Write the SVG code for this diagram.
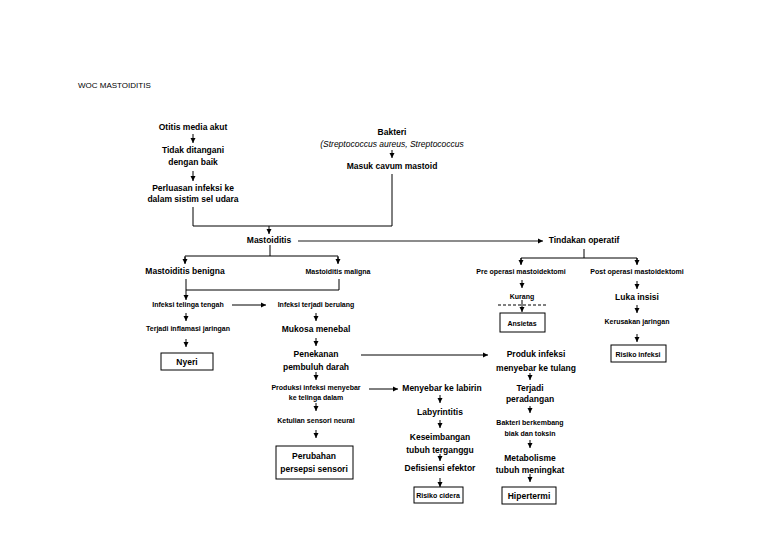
<svg xmlns="http://www.w3.org/2000/svg" width="768" height="543" viewBox="0 0 768 543">
<defs><marker id="a" markerWidth="6" markerHeight="6" refX="5" refY="3" orient="auto" markerUnits="userSpaceOnUse"><path d="M0,0.5 L5,3 L0,5.5z" fill="#000"/></marker></defs>
<style>
text{font-family:"Liberation Sans",Arial,sans-serif;font-size:8.5px;font-weight:bold;text-anchor:middle;fill:#000}
.s{font-size:7px}
line,path.c{stroke:#000;stroke-width:1;fill:none}
.ar{marker-end:url(#a)}
rect{fill:#fff;stroke:#000;stroke-width:1}
</style>
<rect x="0" y="0" width="768" height="543" style="stroke:none"/>
<text x="78" y="88" style="text-anchor:start;font-weight:normal;font-size:8px">WOC MASTOIDITIS</text>
<g id="connectors">
<line class="ar" x1="193" y1="134" x2="193" y2="143"/>
<line class="ar" x1="193" y1="171" x2="193" y2="181"/>
<line class="ar" x1="392" y1="150" x2="392" y2="158"/>
<path class="c" d="M193,207 V226 H392 V174"/>
<line class="ar" x1="269" y1="226" x2="269" y2="234"/>
<line class="ar" x1="298" y1="241" x2="543" y2="241" style="stroke:#666;stroke-width:1.5"/>
<path class="c" d="M270,245 V256"/>
<path class="c" d="M185,263 V256 H338 V263"/>
<line class="ar" x1="185" y1="257" x2="185" y2="264"/>
<line class="ar" x1="338" y1="257" x2="338" y2="264"/>
<path class="c" d="M186,279 V290 H339 V279"/>
<line class="ar" x1="186" y1="290" x2="186" y2="300"/>
<line class="ar" x1="232" y1="305" x2="266" y2="305"/>
<line class="ar" x1="186" y1="313" x2="186" y2="321"/>
<line class="ar" x1="186" y1="339" x2="186" y2="347"/>
<line class="ar" x1="316" y1="313" x2="316" y2="321"/>
<line class="ar" x1="316" y1="338" x2="316" y2="346"/>
<line class="ar" x1="361" y1="355" x2="488" y2="355"/>
<line class="ar" x1="316" y1="372" x2="316" y2="380"/>
<line class="ar" x1="369" y1="389" x2="398" y2="389"/>
<line class="ar" x1="316" y1="403" x2="316" y2="411"/>
<line class="ar" x1="316" y1="430" x2="316" y2="438"/>
<line class="ar" x1="440" y1="395" x2="440" y2="403"/>
<line class="ar" x1="440" y1="420" x2="440" y2="428"/>
<line class="ar" x1="440" y1="454" x2="440" y2="461"/>
<line class="ar" x1="440" y1="478" x2="440" y2="487"/>
<line class="ar" x1="530" y1="373" x2="530" y2="380"/>
<line class="ar" x1="530" y1="406" x2="530" y2="413"/>
<line class="ar" x1="530" y1="440" x2="530" y2="448"/>
<line class="ar" x1="530" y1="474" x2="530" y2="482"/>
<path class="c" d="M584,249 V258"/>
<path class="c" d="M521,264 V258 H637 V264"/>
<line class="ar" x1="521" y1="258" x2="521" y2="265"/>
<line class="ar" x1="637" y1="258" x2="637" y2="265"/>
<line class="ar" x1="522" y1="280" x2="522" y2="288"/>
<line x1="498" y1="305" x2="546" y2="305" style="stroke:#000;stroke-dasharray:3,2"/>
<line class="ar" x1="522" y1="300" x2="522" y2="312"/>
<line class="ar" x1="637" y1="281" x2="637" y2="289"/>
<line class="ar" x1="637" y1="305" x2="637" y2="313"/>
<line class="ar" x1="637" y1="334" x2="637" y2="342"/>
</g>
<g id="n-otitis"><text x="193" y="130">Otitis media akut</text></g>
<g id="n-tidak"><text x="193" y="153">Tidak ditangani</text><text x="193" y="165">dengan baik</text></g>
<g id="n-perluasan"><text x="193" y="191">Perluasan infeksi ke</text><text x="193" y="202">dalam sistim sel udara</text></g>
<g id="n-bakteri"><text x="392" y="135">Bakteri</text><text x="392" y="147" style="font-weight:normal;font-style:italic">(Streptococcus aureus, Streptococcus</text></g>
<g id="n-masuk"><text x="392" y="169">Masuk cavum mastoid</text></g>
<g id="n-mastoiditis"><text x="269" y="243">Mastoiditis</text></g>
<g id="n-tindakan"><text x="584" y="243">Tindakan operatif</text></g>
<g id="n-benigna"><text x="185" y="274">Mastoiditis benigna</text></g>
<g id="n-maligna"><text x="338" y="274" class="s">Mastoiditis maligna</text></g>
<g id="n-infeksi"><text x="188" y="307" class="s">Infeksi telinga tengah</text></g>
<g id="n-berulang"><text x="316" y="307" class="s">Infeksi terjadi berulang</text></g>
<g id="n-inflamasi"><text x="188" y="331" class="s">Terjadi inflamasi jaringan</text></g>
<g id="n-nyeri"><rect x="161" y="353" width="52" height="17"/><text x="187" y="365">Nyeri</text></g>
<g id="n-mukosa"><text x="316" y="332">Mukosa menebal</text></g>
<g id="n-penekanan"><text x="316" y="357">Penekanan</text><text x="316" y="370">pembuluh darah</text></g>
<g id="n-produksi"><text x="316" y="390" class="s">Produksi infeksi menyebar</text><text x="316" y="400" class="s">ke telinga dalam</text></g>
<g id="n-ketulian"><text x="316" y="423" class="s">Ketulian sensori neural</text></g>
<g id="n-perubahan"><rect x="276" y="446" width="77" height="33"/><text x="314" y="459">Perubahan</text><text x="314" y="472">persepsi sensori</text></g>
<g id="n-labirin"><text x="442" y="391">Menyebar ke labirin</text></g>
<g id="n-labyrintitis"><text x="440" y="415">Labyrintitis</text></g>
<g id="n-keseimbangan"><text x="440" y="440">Keseimbangan</text><text x="440" y="453">tubuh terganggu</text></g>
<g id="n-defisiensi"><text x="440" y="471">Defisiensi efektor</text></g>
<g id="n-cidera"><rect x="414" y="487" width="49" height="16"/><text x="438" y="498" class="s">Risiko cidera</text></g>
<g id="n-produk"><text x="536" y="357">Produk infeksi</text><text x="536" y="371">menyebar ke tulang</text></g>
<g id="n-peradangan"><text x="530" y="391">Terjadi</text><text x="530" y="402">peradangan</text></g>
<g id="n-bakteri2"><text x="530" y="425" class="s">Bakteri berkembang</text><text x="530" y="436" class="s">biak dan toksin</text></g>
<g id="n-metabolisme"><text x="530" y="461">Metabolisme</text><text x="530" y="473">tubuh meningkat</text></g>
<g id="n-hipertermi"><rect x="502" y="487" width="54" height="17"/><text x="529" y="499">Hipertermi</text></g>
<g id="n-pre"><text x="521" y="274" class="s">Pre operasi mastoidektomi</text></g>
<g id="n-post"><text x="637" y="274" class="s">Post operasi mastoidektomi</text></g>
<g id="n-kurang"><text x="522" y="299" class="s">Kurang</text></g>
<g id="n-ansietas"><rect x="500" y="313" width="45" height="19"/><text x="522" y="326" class="s">Ansietas</text></g>
<g id="n-luka"><text x="637" y="300">Luka insisi</text></g>
<g id="n-kerusakan"><text x="637" y="324" class="s">Kerusakan jaringan</text></g>
<g id="n-risiko"><rect x="611" y="345" width="55" height="17"/><text x="638" y="357" class="s">Risiko infeksi</text></g>
</svg>
